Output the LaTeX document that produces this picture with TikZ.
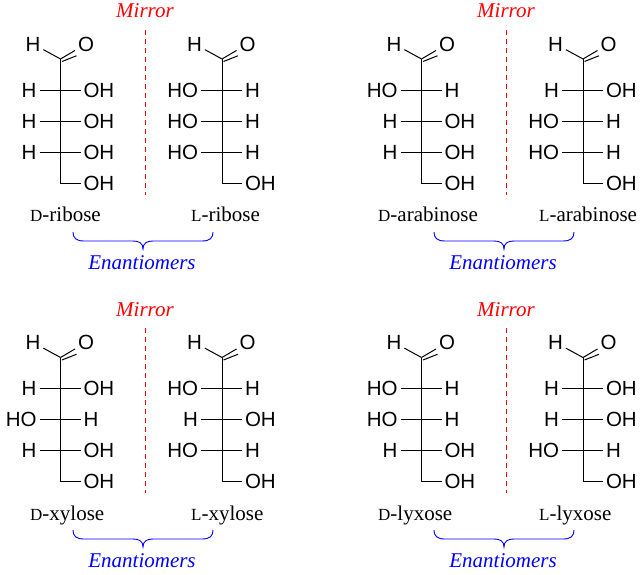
\documentclass[tikz,border=0pt]{standalone}
\usepackage{fontspec}
\setmainfont{Liberation Serif}
\newfontfamily\atomfont{Liberation Sans}
\usetikzlibrary{calc}
\tikzset{
	atom/.style={font=\atomfont\fontsize{20.5}{24}\selectfont, inner sep=3pt, outer sep=0pt},
	bond/.style={line width=1pt, black},
	mirrorline/.style={line width=1pt, red, dash pattern=on 5pt off 4pt},
	mirrortext/.style={font=\itshape\fontsize{21}{25}\selectfont, text=red, anchor=base, inner sep=0pt},
	enantiotext/.style={font=\itshape\fontsize{21}{25}\selectfont, text=blue, anchor=base, inner sep=0pt},
	sugartext/.style={font=\fontsize{21}{25}\selectfont, anchor=base west, inner sep=0pt},
	bracket/.style={line width=0.9pt, blue}
}
% one open chain: name, x of chain, y of top carbon, substituents as left/right
\newcommand{\sugarchain}[4]{
	\coordinate (#1-cho) at (#2,#3);
	\node[atom] (#1-h) at ($(#1-cho)+(-27.5,-15)$) {H};
	\node[atom] (#1-o) at ($(#1-cho)+(25.5,-15)$) {O};
	\draw[bond] (#1-h) -- (#1-cho);
	\draw[bond] (#1-cho) -- (#1-o);
	\draw[bond] ($(#1-cho)+(1.5,2.5)$) -- ($(#1-o.south west)+(1.5,1.5)$);
	\foreach \lft/\rgt [count=\i] in {#4} {
		\coordinate (#1-c\i) at ($(#1-cho)+(0,{31.1*\i})$);
		\node[atom, anchor=east] (#1-l\i) at ($(#1-c\i)+(-21,0)$) {\lft};
		\node[atom, anchor=west] (#1-r\i) at ($(#1-c\i)+(20,0)$) {\rgt};
		\draw[bond] (#1-l\i) -- (#1-c\i) -- (#1-r\i);
	}
	\coordinate (#1-c4) at ($(#1-cho)+(0,124.4)$);
	\node[atom, anchor=west] (#1-r4) at ($(#1-c4)+(20,0)$) {OH};
	\draw[bond] (#1-cho) -- (#1-c4) -- (#1-r4);
}
\begin{document}
\begin{tikzpicture}[x=1pt, y=-1pt]
	\useasboundingbox (0,0) rectangle (643,575);
	
	\sugarchain{ribd}{60.5}{59}{H/OH,H/OH,H/OH}
	\sugarchain{ribl}{222}{59}{HO/H,HO/H,HO/H}
	\sugarchain{arad}{421.5}{59}{HO/H,H/OH,H/OH}
	\sugarchain{aral}{583}{59}{H/OH,HO/H,HO/H}
	\sugarchain{xyld}{60.5}{357.5}{H/OH,HO/H,H/OH}
	\sugarchain{xyll}{222}{357.5}{HO/H,H/OH,HO/H}
	\sugarchain{lyxd}{421.5}{357.5}{HO/H,HO/H,H/OH}
	\sugarchain{lyxl}{583}{357.5}{H/OH,H/OH,HO/H}
	
	\foreach \id/\ox/\oy/\dx/\nm in {rib/0/0/30/ribose, ara/361/0/378/arabinose, xyl/0/298/30/xylose, lyx/361/298/378/lyxose} {
		\node[mirrortext] (\id-mirror) at (145+\ox,17.5+1.005*\oy) {Mirror};
		\coordinate (\id-top) at (145.5+\ox,30+\oy);
		\coordinate (\id-bot) at (145.5+\ox,195+\oy);
		\draw[mirrorline] (\id-top) -- (\id-bot);
		\node[sugartext] (\id-dn) at (\dx,222+\oy) {{\fontsize{17}{18}\selectfont D}-\nm};
		\node[sugartext] (\id-ln) at (\dx+161,222+\oy) {{\fontsize{17}{18}\selectfont L}-\nm};
		\coordinate (\id-ba) at (73+\ox,232+\oy);
		\coordinate (\id-bb) at (213+\ox,232+\oy);
		\coordinate (\id-tip) at (143+\ox,249+\oy);
		\begin{scope}[shift={(\ox,\oy)}]
			\draw[bracket] (\id-ba) .. controls (73,238) and (76,241) .. (84,241) -- (133,241) .. controls (139,241) and (143,243) .. (\id-tip) .. controls (143,243) and (147,241) .. (153,241) -- (202,241) .. controls (210,241) and (213,238) .. (\id-bb);
		\end{scope}
		\node[enantiotext] (\id-en) at (142+\ox,269+\oy) {Enantiomers};
	}
\end{tikzpicture}
\end{document}
